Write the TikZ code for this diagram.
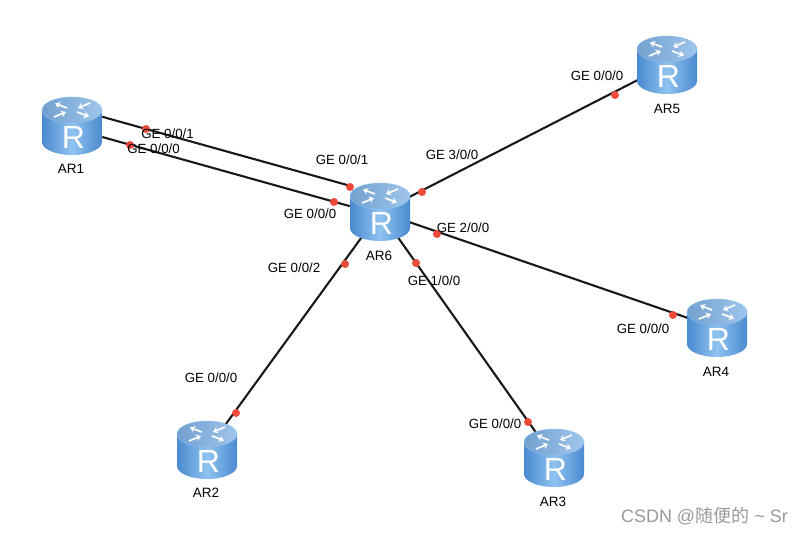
\documentclass[tikz,border=0pt]{standalone}
\usepackage{fontspec}
\setmainfont{Liberation Sans}
\newfontfamily\cjkfont{Noto Sans CJK SC}
\usetikzlibrary{positioning, arrows.meta}
\definecolor{routerside}{HTML}{4A8AD0}
\definecolor{routermid}{HTML}{8FC3F0}
\definecolor{routertop}{HTML}{7FB2E6}
\definecolor{portred}{HTML}{F04B3A}
\tikzset{
	routerbox/.style={minimum width=60pt, minimum height=58pt, inner sep=0pt},
	link/.style={draw=black!90, line width=2.1pt},
	port/.style={circle, fill=portred, minimum size=8pt, inner sep=0pt},
	portlabel/.style={font=\fontsize{13.3}{15}\selectfont, inner sep=0pt},
	namelabel/.style={font=\fontsize{13.5}{15}\selectfont, inner sep=0pt},
	flow/.style={white, line width=1.7pt, -{Stealth[length=5pt, width=7pt]}}
}
\newcommand{\routericon}[1]{
	\begin{scope}[shift={(#1)}]
	\shade[left color=routerside, right color=routerside, middle color=routermid]
		(-30,-16) -- (-30,16) arc[start angle=180, end angle=0, x radius=30, y radius=13] -- (30,-16) -- cycle;
	\shade[left color=routertop!90!black, right color=routertop!75!white, draw=routermid, line width=0.4pt]
		(0,-16) ellipse[x radius=30, y radius=13];
	\begin{scope}[shift={(0,-16)}, yscale=0.5]
	\draw[flow] (-5,-4) -- (-17,-13);
	\draw[flow] (5,4) -- (17,13);
	\draw[flow] (18,-14) -- (6,-4);
	\draw[flow] (-18,14) -- (-6,4);
	\end{scope}
	\node (#1r) [white, font=\fontsize{32}{32}\selectfont, inner sep=0pt] at (1.5,11) {R};
	\end{scope}
}
\begin{document}
\begin{tikzpicture}[x=1pt, y=-1pt]
\useasboundingbox (0,0) rectangle (803,535);
\node (ar1) [routerbox] at (72,126) {};
\node (ar2) [routerbox] at (207,450) {};
\node (ar3) [routerbox] at (554,458) {};
\node (ar4) [routerbox] at (717,328) {};
\node (ar5) [routerbox] at (667,65) {};
\node (ar6) [routerbox] at (380,212) {};
% links
\draw[link] (ar1.17) -- (ar6.139);
\draw[link] (ar1.-20) -- (ar6.169);
\draw[link] (ar6.center) -- (ar2.center);
\draw[link] (ar6.center) -- (ar3.center);
\draw[link] (ar6.center) -- (ar4.center);
\draw[link] (ar6.center) -- (ar5.center);
\foreach \r in {ar1,ar2,ar3,ar4,ar5,ar6} {\routericon{\r}}
% ports
\node (p1) [port] at (146,129) {};
\node (p2) [port] at (130,145) {};
\node (p3) [port] at (350,187) {};
\node (p4) [port] at (334,202) {};
\node (p5) [port] at (422,192) {};
\node (p6) [port] at (437,234) {};
\node (p7) [port] at (416,263) {};
\node (p8) [port] at (345,264) {};
\node (p9) [port] at (615,95) {};
\node (p10) [port] at (673,315) {};
\node (p11) [port] at (528,422) {};
\node (p12) [port] at (236,413) {};
\node (l1) [portlabel] at (167.5,134) {GE 0/0/1};
\node (l2) [portlabel] at (153.5,149) {GE 0/0/0};
\node (l3) [portlabel] at (342,160) {GE 0/0/1};
\node (l4) [portlabel] at (310,214) {GE 0/0/0};
\node (l5) [portlabel] at (452,155) {GE 3/0/0};
\node (l6) [portlabel] at (463,228) {GE 2/0/0};
\node (l7) [portlabel] at (434,281) {GE 1/0/0};
\node (l8) [portlabel] at (294,268) {GE 0/0/2};
\node (l9) [portlabel] at (597,76) {GE 0/0/0};
\node (l10) [portlabel] at (643,329) {GE 0/0/0};
\node (l11) [portlabel] at (495,424) {GE 0/0/0};
\node (l12) [portlabel] at (211,378) {GE 0/0/0};
% names
\node (n1) [namelabel] at (71,169) {AR1};
\node (n2) [namelabel] at (206,493) {AR2};
\node (n3) [namelabel] at (553,502) {AR3};
\node (n4) [namelabel] at (716,372) {AR4};
\node (n5) [namelabel] at (667,109) {AR5};
\node (n6) [namelabel] at (379,256) {AR6};
\node (mark) [text=black!40, font=\fontsize{18}{20}\selectfont, inner sep=0pt, anchor=east] at (788,516) {CSDN @{\cjkfont 随便的} \char`\~{} Sr};
\end{tikzpicture}
\end{document}
